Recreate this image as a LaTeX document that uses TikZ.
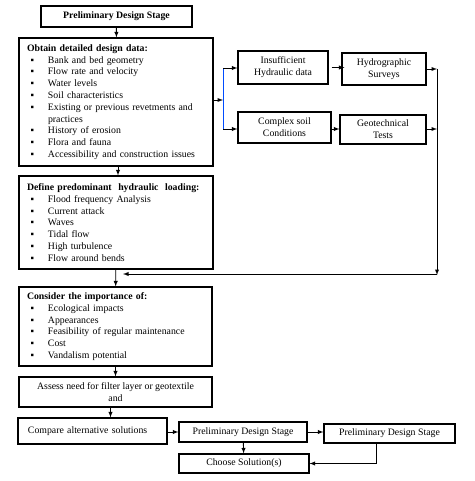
\documentclass[tikz,border=0pt]{standalone}
\usepackage{fontspec}
\setmainfont{Liberation Serif}
\usepackage{tikz}

\newcommand{\itm}{\makebox[21pt][l]{\hspace*{3.5pt}▪}}

\begin{document}
\begin{tikzpicture}[
    x=1pt, y=-1pt,
    box/.style={draw, line width=1.1pt, inner sep=0pt, font=\fontsize{9.8}{11.8}\selectfont},
    listbox/.style={box, align=left, inner xsep=8pt},
    arrow/.style={-latex, line width=0.9pt},
    plain/.style={line width=0.9pt},
    split/.style={line width=0.9pt, blue!70!cyan}
]
    \useasboundingbox (0,0) rectangle (474,481);

    \node[box, minimum width=151pt, minimum height=21pt] (stage) at (116.5,16.5) {\textbf{Preliminary Design Stage}};
    \node[listbox, text width=178pt, minimum height=128pt] (data) at (116,102) {%
        \textbf{Obtain detailed design data:}\\
        \itm Bank and bed geometry\\
        \itm Flow rate and velocity\\
        \itm Water levels\\
        \itm Soil characteristics\\
        \itm Existing or previous revetments and\\
        \hspace*{21pt}practices\\
        \itm History of erosion\\
        \itm Flora and fauna\\
        \itm Accessibility and construction issues};
    \node[listbox, text width=178pt, minimum height=93pt] (loading) at (116,222.5) {%
        \textbf{Define predominant\ \ hydraulic\ \ loading:}\\
        \itm Flood frequency Analysis\\
        \itm Current attack\\
        \itm Waves\\
        \itm Tidal flow\\
        \itm High turbulence\\
        \itm Flow around bends};
    \node[listbox, text width=177pt, minimum height=79pt] (consider) at (115.5,326.5) {%
        \textbf{Consider the importance of:}\\
        \itm Ecological impacts\\
        \itm Appearances\\
        \itm Feasibility of regular maintenance\\
        \itm Cost\\
        \itm Vandalism potential};
    \node[box, align=center, minimum width=193pt, minimum height=30pt] (assess) at (115.5,392) {Assess need for filter layer or geotextile\\and};
    \node[box, align=left, text width=139pt, inner xsep=5pt, minimum height=26pt] (compare) at (92.5,431) {\hspace*{5pt}Compare alternative solutions};
    \node[box, minimum width=128pt, minimum height=20pt] (prelimA) at (243,432) {Preliminary Design Stage};
    \node[box, minimum width=131pt, minimum height=19pt] (prelimB) at (389.5,433.5) {Preliminary Design Stage};
    \node[box, minimum width=130pt, minimum height=19pt] (choose) at (244,463.5) {Choose Solution(s)};

    \node[box, align=center, minimum width=90pt, minimum height=33pt] (hydraulic) at (283,67.5) {Insufficient\\Hydraulic data};
    \node[box, align=center, minimum width=84pt, minimum height=32pt] (surveys) at (384,69) {Hydrographic\\Surveys};
    \node[box, align=center, minimum width=93pt, minimum height=31pt] (soil) at (284.5,127.5) {Complex soil\\Conditions};
    \node[box, align=center, minimum width=86pt, minimum height=29pt] (tests) at (383,129.5) {Geotechnical\\Tests};

    \coordinate (fork) at (223,100);
    \coordinate (forktop) at (223,68);
    \coordinate (forkbot) at (223,129);
    \coordinate (railtop) at (437,69);
    \coordinate (railmid) at (437,129);
    \coordinate (railbot) at (437,275);
    \coordinate (merge) at (123,274);

    \draw[arrow] (stage) -- (data);
    \draw[arrow] (data.east |- fork) -- (fork);
    \draw[split] (forktop) -- (forkbot);
    \draw[arrow] (forktop) -- (forktop -| hydraulic.west);
    \draw[arrow] (forkbot) -- (forkbot -| soil.west);
    \draw[arrow] ([xshift=3pt]hydraulic.east) -- ([xshift=3pt]hydraulic.east -| surveys.west);
    \draw[arrow] (soil.east |- railmid) -- (tests.west |- railmid);
    \draw[arrow] (surveys.east |- railtop) -- (railtop);
    \draw[arrow] (tests.east |- railmid) -- (railmid);
    \draw[arrow] (railtop) -- (railbot);
    \draw[arrow] (railbot |- merge) -- (merge);
    \draw[arrow] ([xshift=2pt]data.south) -- ([xshift=2pt]data.south |- loading.north);
    \draw[arrow] (loading) -- (consider);
    \draw[arrow] (consider) -- (assess);
    \draw[arrow] ([xshift=-5pt]assess.south) -- ([xshift=-5pt]assess.south |- compare.north);
    \draw[arrow] (compare.east |- prelimA) -- (prelimA.west);
    \draw[arrow] (prelimA.east) -- (prelimA.east -| prelimB.west);
    \draw[arrow] (prelimA) -- (choose);
    \draw[arrow] ([xshift=-13pt]prelimB.south) |- (choose.east);
\end{tikzpicture}
\end{document}
